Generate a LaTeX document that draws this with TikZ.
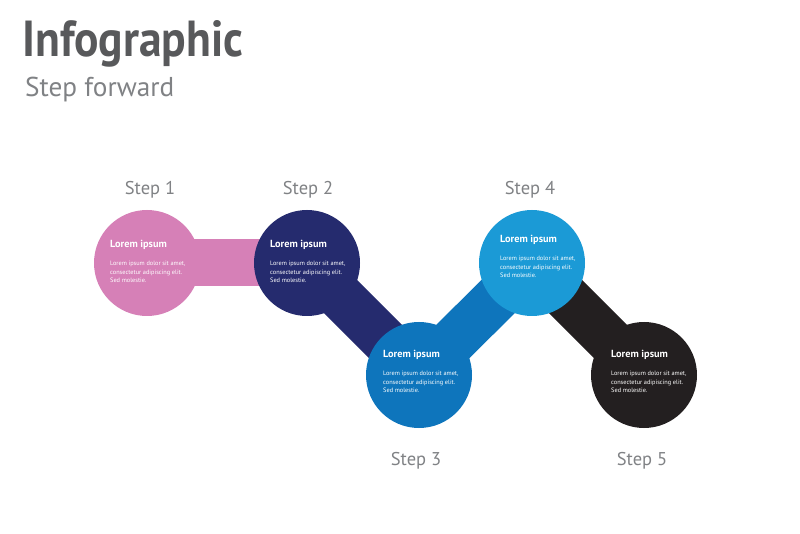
\documentclass[tikz,border=0pt]{standalone}
\usepackage{fontspec}
\setmainfont{PT Sans}
\usetikzlibrary{calc,backgrounds}
\definecolor{cpink}{RGB}{214,128,183}
\definecolor{cnavy}{RGB}{37,43,110}
\definecolor{cblue}{RGB}{14,117,188}
\definecolor{clight}{RGB}{27,154,214}
\definecolor{cblack}{RGB}{35,31,32}
\definecolor{ctitle}{RGB}{88,89,91}
\definecolor{csub}{RGB}{128,130,133}
\begin{document}
\begin{tikzpicture}[x=1pt,y=-1pt,
  stepcirc/.style={circle, minimum size=106pt, inner sep=0pt},
  band/.style={line width=47pt},
  head/.style={text=white, font=\bfseries\fontsize{10.3}{12}\selectfont, inner sep=0pt, anchor=base west},
  body/.style={text=white, font=\fontsize{6.3}{8.3}\selectfont, align=left, inner sep=0pt, anchor=north west},
  steplbl/.style={text=csub, font=\fontsize{18.5}{22}\selectfont, inner sep=0pt, anchor=base}]
\useasboundingbox (0,0) rectangle (800,534);
% title
\node[inner sep=0pt, anchor=base west, text=ctitle] (title) at (22,57)
  {\resizebox{221pt}{36pt}{\bfseries Infographic}};
\node[inner sep=0pt, anchor=base west, text=csub] (sub) at (25,97)
  {\resizebox{149pt}{!}{\fontsize{25}{30}\selectfont Step forward}};
% circles
\node[stepcirc, fill=cpink]  (c1) at (147,263) {};
\node[stepcirc, fill=cnavy]  (c2) at (307,263) {};
\node[stepcirc, fill=cblue]  (c3) at (419,375) {};
\node[stepcirc, fill=clight] (c4) at (532,263) {};
\node[stepcirc, fill=cblack] (c5) at (644,375) {};
\begin{pgfonlayer}{background}
  \fill[white] (0,0) rectangle (800,534);
  \draw[band, cpink]  (c1.center) -- (c2.center);
  \draw[band, cnavy]  (c2.center) -- (c3.center);
  \draw[band, cblue]  (c3.center) -- (c4.center);
  \draw[band, cblack] (c4.center) -- (c5.center);
\end{pgfonlayer}
% texts
\node[head] (h1) at ($(c1)+(-37,-15.7)$) {Lorem ipsum};
\node[body] (b1) at ($(h1.base west)+(0,13.9)$) {Lorem ipsum dolor sit amet,\\consectetur adipiscing elit.\\Sed molestie.};
\node[head] (h2) at ($(c2)+(-37,-15.7)$) {Lorem ipsum};
\node[body] (b2) at ($(h2.base west)+(0,13.9)$) {Lorem ipsum dolor sit amet,\\consectetur adipiscing elit.\\Sed molestie.};
\node[head] (h3) at ($(c3)+(-36,-17.7)$) {Lorem ipsum};
\node[body] (b3) at ($(h3.base west)+(0,13.9)$) {Lorem ipsum dolor sit amet,\\consectetur adipiscing elit.\\Sed molestie.};
\node[head] (h4) at ($(c4)+(-32,-20.7)$) {Lorem ipsum};
\node[body] (b4) at ($(h4.base west)+(0,13.9)$) {Lorem ipsum dolor sit amet,\\consectetur adipiscing elit.\\Sed molestie.};
\node[head] (h5) at ($(c5)+(-33,-17.7)$) {Lorem ipsum};
\node[body] (b5) at ($(h5.base west)+(0,13.9)$) {Lorem ipsum dolor sit amet,\\consectetur adipiscing elit.\\Sed molestie.};
% step labels
\node[steplbl] (s1) at (150,195) {Step 1};
\node[steplbl] (s2) at (308,195) {Step 2};
\node[steplbl] (s3) at (416,465) {Step 3};
\node[steplbl] (s4) at (530,195) {Step 4};
\node[steplbl] (s5) at (642,465) {Step 5};
\end{tikzpicture}
\end{document}
